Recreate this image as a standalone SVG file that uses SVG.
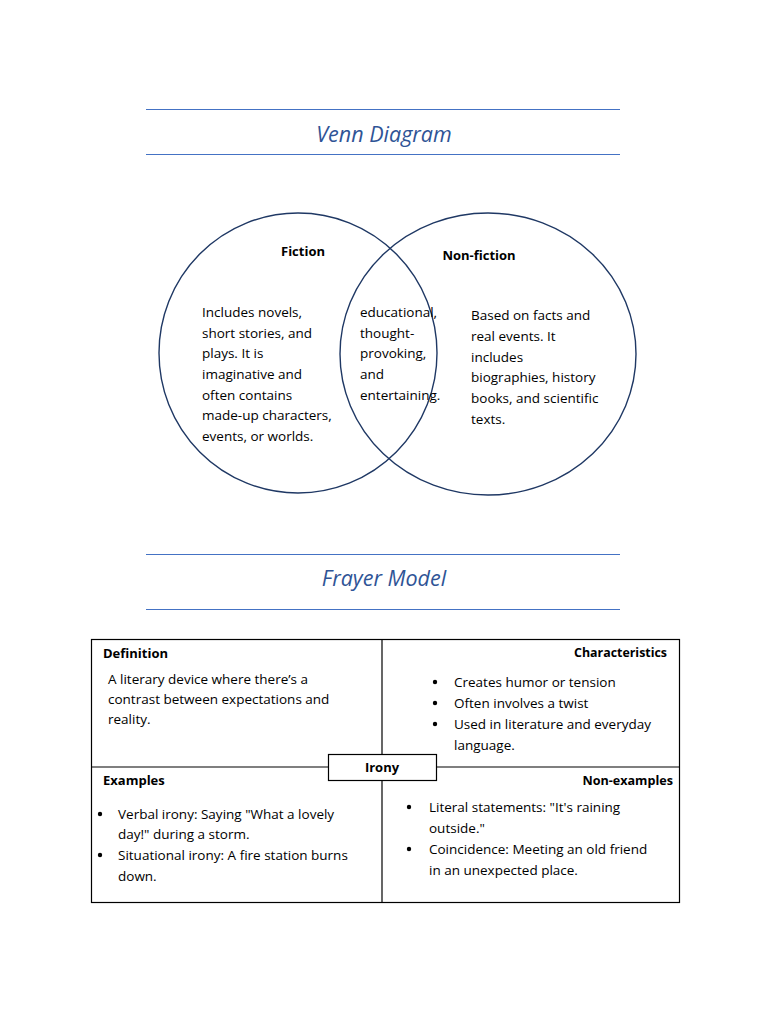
<svg xmlns="http://www.w3.org/2000/svg" width="768" height="1024" viewBox="0 0 768 1024">
<style>
.t{font-family:"Open Sans","Liberation Sans",sans-serif;font-size:13.5px;fill:#000}
.b{font-weight:bold;font-size:13px}
.h{font-family:"Open Sans","Liberation Sans",sans-serif;font-size:21.5px;font-style:italic;fill:#2F5496}
.rule{stroke:#4472C4;stroke-width:1.2}
.venn{fill:none;stroke:#1F3864;stroke-width:1.4}
.box{fill:#fff;stroke:#000;stroke-width:1.2}
</style>
<rect width="768" height="1024" fill="#fff"/>
<g id="venn-title">
<line class="rule" x1="146" y1="109.5" x2="620" y2="109.5"/>
<text class="h" x="384" y="142" text-anchor="middle">Venn Diagram</text>
<line class="rule" x1="146" y1="154.5" x2="620" y2="154.5"/>
</g>
<g id="fiction">
<ellipse class="venn" cx="298" cy="353" rx="139" ry="140"/>
<text class="t b" x="303" y="256" text-anchor="middle">Fiction</text>
<text class="t" x="202"><tspan x="202" y="317">Includes novels,</tspan><tspan x="202" y="338">short stories, and</tspan><tspan x="202" y="358">plays. It is</tspan><tspan x="202" y="379">imaginative and</tspan><tspan x="202" y="400">often contains</tspan><tspan x="202" y="420">made-up characters,</tspan><tspan x="202" y="441">events, or worlds.</tspan></text>
</g>
<g id="nonfiction">
<ellipse class="venn" cx="488" cy="354" rx="148" ry="141"/>
<text class="t b" x="479" y="260" text-anchor="middle">Non-fiction</text>
<text class="t"><tspan x="471" y="320">Based on facts and</tspan><tspan x="471" y="341">real events. It</tspan><tspan x="471" y="362">includes</tspan><tspan x="471" y="382">biographies, history</tspan><tspan x="471" y="403">books, and scientific</tspan><tspan x="471" y="424">texts.</tspan></text>
</g>
<g id="overlap">
<text class="t"><tspan x="360" y="317">educational,</tspan><tspan x="360" y="338">thought-</tspan><tspan x="360" y="358">provoking,</tspan><tspan x="360" y="379">and</tspan><tspan x="360" y="400">entertaining.</tspan></text>
</g>
<g id="frayer-title">
<line class="rule" x1="146" y1="554.5" x2="620" y2="554.5"/>
<text class="h" x="384" y="586" text-anchor="middle">Frayer Model</text>
<line class="rule" x1="146" y1="609.5" x2="620" y2="609.5"/>
</g>
<g id="frayer-frame">
<rect x="91.5" y="639.5" width="588" height="263" fill="none" stroke="#000" stroke-width="1.2"/>
<line x1="382" y1="639.5" x2="382" y2="902.5" stroke="#000" stroke-width="1.2"/>
<line x1="91.5" y1="767" x2="679.5" y2="767" stroke="#000" stroke-width="1.2"/>
</g>
<g id="definition">
<text class="t b" x="103" y="658">Definition</text>
<text class="t"><tspan x="108" y="684">A literary device where there’s a</tspan><tspan x="108" y="704">contrast between expectations and</tspan><tspan x="108" y="724">reality.</tspan></text>
</g>
<g id="characteristics">
<text class="t b" x="667" y="657" text-anchor="end" style="font-size:12.4px">Characteristics</text>
<g class="t"><circle cx="435" cy="682" r="2.2"/><circle cx="435" cy="703" r="2.2"/><circle cx="435" cy="724" r="2.2"/></g>
<text class="t"><tspan x="454" y="687">Creates humor or tension</tspan><tspan x="454" y="708">Often involves a twist</tspan><tspan x="454" y="729">Used in literature and everyday</tspan><tspan x="454" y="750">language.</tspan></text>
</g>
<g id="examples">
<text class="t b" x="103" y="785">Examples</text>
<g class="t"><circle cx="100" cy="814" r="2.2"/><circle cx="100" cy="855" r="2.2"/></g>
<text class="t"><tspan x="118" y="819">Verbal irony: Saying "What a lovely</tspan><tspan x="118" y="839">day!" during a storm.</tspan><tspan x="118" y="860">Situational irony: A fire station burns</tspan><tspan x="118" y="881">down.</tspan></text>
</g>
<g id="nonexamples">
<text class="t b" x="673" y="785" text-anchor="end" style="font-size:12.6px">Non-examples</text>
<g class="t"><circle cx="409" cy="807" r="2.2"/><circle cx="409" cy="849" r="2.2"/></g>
<text class="t"><tspan x="429" y="812">Literal statements: "It's raining</tspan><tspan x="429" y="833">outside."</tspan><tspan x="429" y="854">Coincidence: Meeting an old friend</tspan><tspan x="429" y="875">in an unexpected place.</tspan></text>
</g>
<g id="irony">
<rect class="box" x="328.5" y="754.5" width="108" height="26"/>
<text class="t b" x="382" y="772" text-anchor="middle">Irony</text>
</g>
</svg>
